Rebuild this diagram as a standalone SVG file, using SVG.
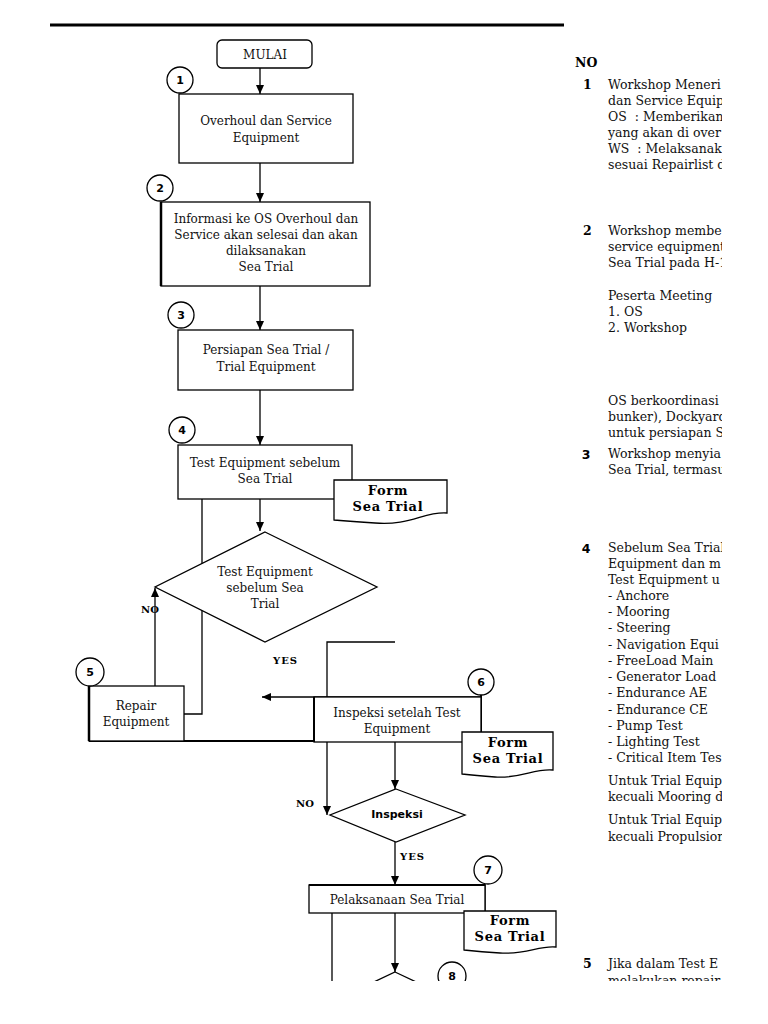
<svg xmlns="http://www.w3.org/2000/svg" width="768" height="1024" viewBox="0 0 768 1024">
<style>
.box{fill:#fff;stroke:#000;stroke-width:1.3}
.ln{fill:none;stroke:#000;stroke-width:1.3}
.t{font-family:"DejaVu Serif","Liberation Serif",serif;font-size:12px;text-anchor:middle;fill:#111}
.f{font-family:"DejaVu Serif","Liberation Serif",serif;font-size:13px;font-weight:bold;text-anchor:middle;fill:#000;letter-spacing:0.7px}
.c{fill:#fff;stroke:#000;stroke-width:1.3}
.cn{font-family:"DejaVu Sans","Liberation Sans",sans-serif;font-size:11px;font-weight:bold;text-anchor:middle;fill:#000}
.cn2{font-family:"DejaVu Sans","Liberation Sans",sans-serif;font-size:12.5px;font-weight:bold;text-anchor:middle;fill:#000}
.lb{font-family:"DejaVu Serif","Liberation Serif",serif;font-size:10px;font-weight:bold;fill:#000}
.r{font-family:"DejaVu Serif","Liberation Serif",serif;font-size:12.5px;fill:#111}
.rn{font-family:"DejaVu Serif","Liberation Serif",serif;font-size:12.5px;font-weight:bold;fill:#000}
</style>
<defs>
<marker id="ah" markerWidth="10" markerHeight="10" refX="9" refY="5" orient="auto" markerUnits="userSpaceOnUse"><path d="M0,1 L9,5 L0,9 Z" fill="#000"/></marker>
<clipPath id="page"><rect x="0" y="0" width="768" height="981"/></clipPath>
<clipPath id="col"><rect x="560" y="0" width="162" height="981"/></clipPath>
</defs>
<rect width="768" height="1024" fill="#fff"/>
<line x1="50" y1="25" x2="564" y2="25" stroke="#000" stroke-width="3"/>
<g clip-path="url(#page)">
<g id="connectors">
<line class="ln" x1="260" y1="68" x2="260" y2="94" marker-end="url(#ah)"/>
<line class="ln" x1="260" y1="163" x2="260" y2="202" marker-end="url(#ah)"/>
<line class="ln" x1="260" y1="286" x2="260" y2="330" marker-end="url(#ah)"/>
<line class="ln" x1="260" y1="390" x2="260" y2="445" marker-end="url(#ah)"/>
<line class="ln" x1="260" y1="499" x2="260" y2="531" marker-end="url(#ah)"/>
<polyline class="ln" points="178,471 202,471 202,714 90,714" stroke-width="2" marker-end="url(#ah)"/>
<line class="ln" x1="155" y1="686" x2="155" y2="588" marker-end="url(#ah)"/>
<line x1="89" y1="741" x2="316" y2="741" stroke="#000" stroke-width="2"/>
<polyline class="ln" points="395,642 327,642 327,697"/>
<line class="ln" x1="481" y1="697" x2="262" y2="697" marker-end="url(#ah)"/>
<line x1="481" y1="695" x2="481" y2="732" stroke="#000" stroke-width="2"/>
<line class="ln" x1="327" y1="742" x2="327" y2="815" marker-end="url(#ah)"/>
<line class="ln" x1="395" y1="742" x2="395" y2="789" marker-end="url(#ah)"/>
<line class="ln" x1="395" y1="842" x2="395" y2="885" marker-end="url(#ah)"/>
<line class="ln" x1="485" y1="884" x2="485" y2="911"/>
<polyline class="ln" points="309,899 332,899 332,990"/>
<line class="ln" x1="395" y1="913" x2="395" y2="972" marker-end="url(#ah)"/>
</g>
<g id="mulai"><rect class="box" x="217" y="40" width="95" height="28" rx="5"/><text class="t" x="265" y="59">MULAI</text></g>
<g id="n1"><rect class="box" x="179" y="94" width="174" height="69"/><text class="t" x="266" y="125">Overhoul dan Service</text><text class="t" x="266" y="142">Equipment</text><circle class="c" cx="180" cy="80" r="13"/><text class="cn" x="180" y="84">1</text></g>
<g id="n2"><rect class="box" x="161" y="202" width="209" height="84"/><line x1="161" y1="202" x2="161" y2="286" stroke="#000" stroke-width="2.5"/><text class="t" x="266" y="223">Informasi ke OS Overhoul dan</text><text class="t" x="266" y="239">Service akan selesai dan akan</text><text class="t" x="266" y="255">dilaksanakan</text><text class="t" x="266" y="271">Sea Trial</text><circle class="c" cx="160" cy="188" r="13"/><text class="cn" x="160" y="192">2</text></g>
<g id="n3"><rect class="box" x="178" y="330" width="175" height="60"/><text class="t" x="266" y="354">Persiapan Sea Trial /</text><text class="t" x="266" y="371">Trial Equipment</text><circle class="c" cx="181" cy="315" r="13"/><text class="cn" x="181" y="319">3</text></g>
<g id="n4"><rect class="box" x="178" y="445" width="174" height="54"/><text class="t" x="265" y="467">Test Equipment sebelum</text><text class="t" x="265" y="483">Sea Trial</text><circle class="c" cx="182" cy="430" r="13"/><text class="cn" x="182" y="434">4</text></g>
<g id="form1"><path class="box" d="M334,480 H447 V513 C425,511 410,526 375,523 C358,522 345,521 334,520 Z"/><text class="f" x="388" y="495">Form</text><text class="f" x="388" y="511">Sea Trial</text></g>
<g id="d1"><polygon class="box" points="265,532 377,587 265,642 155,587"/><text class="t" x="265" y="576">Test Equipment</text><text class="t" x="265" y="592">sebelum Sea</text><text class="t" x="265" y="608">Trial</text></g>
<text class="lb" x="141" y="613">NO</text>
<text class="lb" x="273" y="664" letter-spacing="1">YES</text>
<g id="n5"><rect class="box" x="89" y="686" width="95" height="55"/><line x1="89" y1="686" x2="89" y2="741" stroke="#000" stroke-width="2.5"/><text class="t" x="136" y="710">Repair</text><text class="t" x="136" y="726">Equipment</text><circle class="c" cx="90" cy="672" r="14"/><text class="cn" x="90" y="676">5</text></g>
<g id="n6"><rect class="box" x="314" y="697" width="167" height="45"/><line x1="314" y1="697" x2="314" y2="742" stroke="#000" stroke-width="2"/><text class="t" x="397" y="717">Inspeksi setelah Test</text><text class="t" x="397" y="733">Equipment</text><circle class="c" cx="481" cy="682" r="13"/><text class="cn" x="481" y="686">6</text></g>
<g id="form2"><path class="box" d="M462,732 H553 V770 C535,768 520,779 495,777 C480,776 470,775 462,774 Z"/><text class="f" x="508" y="747">Form</text><text class="f" x="508" y="763">Sea Trial</text></g>
<g id="d2"><polygon class="box" points="396,789 465,815 396,842 330,815"/><text class="cn" x="397" y="818">Inspeksi</text></g>
<text class="lb" x="296" y="807">NO</text>
<text class="lb" x="400" y="860" letter-spacing="1">YES</text>
<g id="n7"><rect class="box" x="309" y="885" width="176" height="28"/><line x1="309" y1="885" x2="485" y2="885" stroke="#000" stroke-width="2"/><text class="t" x="397" y="904">Pelaksanaan Sea Trial</text><circle class="c" cx="488" cy="870" r="14"/><text class="cn" x="488" y="874">7</text></g>
<g id="form3"><path class="box" d="M464,911 H556 V947 C540,945 525,955 500,953 C485,952 474,951 464,950 Z"/><text class="f" x="510" y="925">Form</text><text class="f" x="510" y="941">Sea Trial</text></g>
<g id="d3"><polygon class="box" points="395,972 465,1005 395,1038 325,1005"/></g>
<g id="n8"><circle class="c" cx="452" cy="976" r="14"/><text class="cn" x="452" y="980">8</text></g>
</g>
<g id="desc" clip-path="url(#col)">
<text class="rn" x="575" y="67">NO</text>
<text class="rn" x="583" y="89">1</text>
<text class="r" x="608" y="89">Workshop Meneri</text>
<text class="r" x="608" y="105">dan Service Equip</text>
<text class="r" x="608" y="121">OS&#160;&#160;: Memberikan</text>
<text class="r" x="608" y="137">yang akan di over</text>
<text class="r" x="608" y="153">WS&#160;&#160;: Melaksanak</text>
<text class="r" x="608" y="169">sesuai Repairlist d</text>
<text class="rn" x="583" y="235">2</text>
<text class="r" x="608" y="235">Workshop membe</text>
<text class="r" x="608" y="251">service equipment</text>
<text class="r" x="608" y="267">Sea Trial pada H-1</text>
<text class="r" x="608" y="300">Peserta Meeting</text>
<text class="r" x="608" y="316">1. OS</text>
<text class="r" x="608" y="332">2. Workshop</text>
<text class="r" x="608" y="405">OS berkoordinasi</text>
<text class="r" x="608" y="421">bunker), Dockyard</text>
<text class="r" x="608" y="437">untuk persiapan S</text>
<text class="cn2" x="586" y="459">3</text>
<text class="r" x="608" y="458">Workshop menyia</text>
<text class="r" x="608" y="474">Sea Trial, termasu</text>
<text class="cn2" x="586" y="553">4</text>
<text class="r" x="608" y="552">Sebelum Sea Trial</text>
<text class="r" x="608" y="568">Equipment dan m</text>
<text class="r" x="608" y="584">Test Equipment u</text>
<text class="r" x="608" y="600">- Anchore</text>
<text class="r" x="608" y="616">- Mooring</text>
<text class="r" x="608" y="632">- Steering</text>
<text class="r" x="608" y="649">- Navigation Equi</text>
<text class="r" x="608" y="665">- FreeLoad Main</text>
<text class="r" x="608" y="681">- Generator Load</text>
<text class="r" x="608" y="697">- Endurance AE</text>
<text class="r" x="608" y="714">- Endurance CE</text>
<text class="r" x="608" y="730">- Pump Test</text>
<text class="r" x="608" y="746">- Lighting Test</text>
<text class="r" x="608" y="762">- Critical Item Tes</text>
<text class="r" x="608" y="785">Untuk Trial Equip</text>
<text class="r" x="608" y="801">kecuali Mooring d</text>
<text class="r" x="608" y="824">Untuk Trial Equip</text>
<text class="r" x="608" y="841">kecuali Propulsion</text>
<text class="rn" x="583" y="968">5</text>
<text class="r" x="608" y="968">Jika dalam Test E</text>
<text class="r" x="608" y="985">melakukan repair</text>
</g>
</svg>
